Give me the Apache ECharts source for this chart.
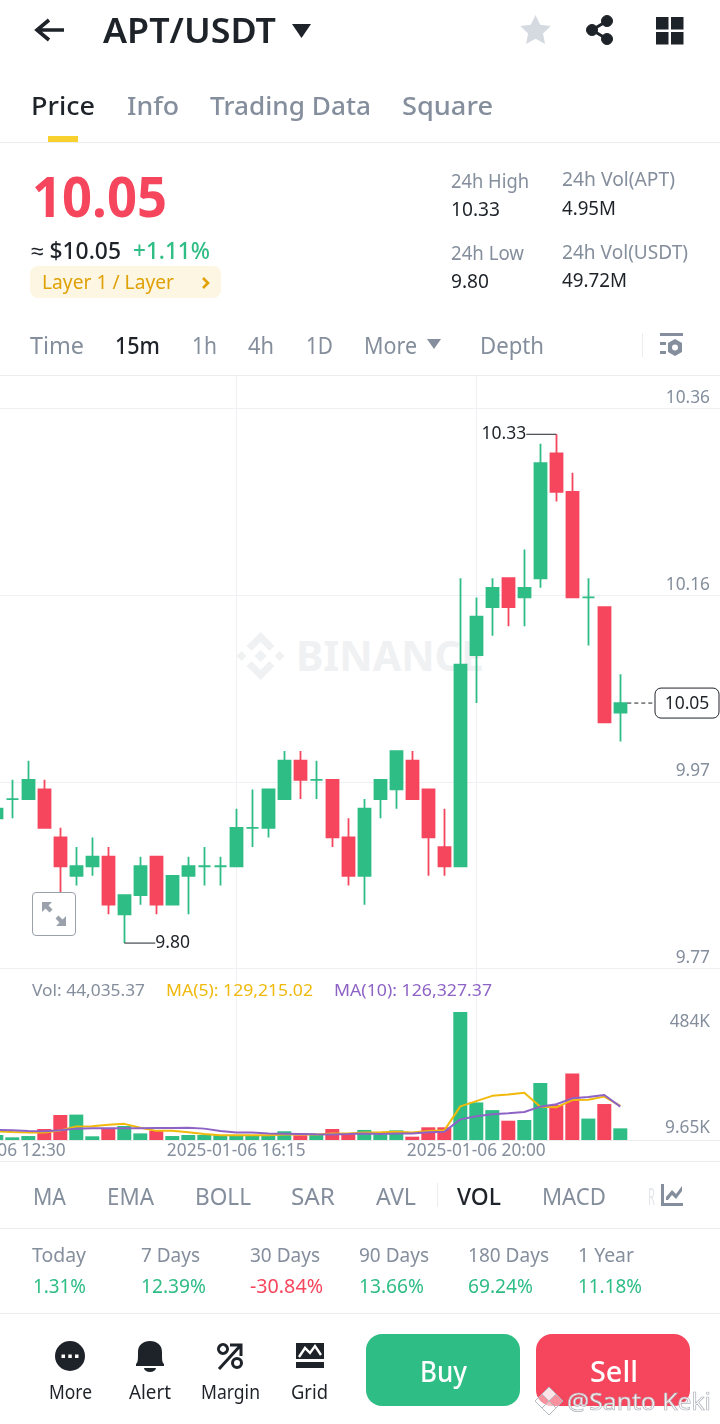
<!DOCTYPE html>
<html><head><meta charset="utf-8">
<script src="https://cdn.jsdelivr.net/npm/echarts@6/dist/echarts.min.js"></script>
<style>
html,body{margin:0;padding:0;background:#fff;width:720px;height:1424px;overflow:hidden}
#under,#chart,#over{position:absolute;left:0;top:0;width:720px;height:1424px}
#under{z-index:0}#chart{z-index:1}#over{z-index:2;pointer-events:none}
svg text{font-family:"Noto Sans",sans-serif}
</style></head><body>
<svg id="under" viewBox="0 0 720 1424" xmlns="http://www.w3.org/2000/svg"></svg>
<div id="chart"></div>
<svg id="over" viewBox="0 0 720 1424" xmlns="http://www.w3.org/2000/svg"></svg>
<script>
const categories=["2025-01-06 12:30","2025-01-06 12:45","2025-01-06 13:00","2025-01-06 13:15","2025-01-06 13:30","2025-01-06 13:45","2025-01-06 14:00","2025-01-06 14:15","2025-01-06 14:30","2025-01-06 14:45","2025-01-06 15:00","2025-01-06 15:15","2025-01-06 15:30","2025-01-06 15:45","2025-01-06 16:00","2025-01-06 16:15","2025-01-06 16:30","2025-01-06 16:45","2025-01-06 17:00","2025-01-06 17:15","2025-01-06 17:30","2025-01-06 17:45","2025-01-06 18:00","2025-01-06 18:15","2025-01-06 18:30","2025-01-06 18:45","2025-01-06 19:00","2025-01-06 19:15","2025-01-06 19:30","2025-01-06 19:45","2025-01-06 20:00","2025-01-06 20:15","2025-01-06 20:30","2025-01-06 20:45","2025-01-06 21:00","2025-01-06 21:15","2025-01-06 21:30","2025-01-06 21:45","2025-01-06 22:00","2025-01-06 22:15","2025-01-06 22:30","2025-01-06 22:45","2025-01-06 23:00","2025-01-06 23:15","2025-01-06 23:30","2025-01-06 23:45"];
const opens =[9.93,9.95,9.95,9.96,9.91,9.87,9.88,9.89,9.83,9.85,9.89,9.84,9.87,9.88,9.88,9.88,9.92,9.92,9.95,9.99,9.97,9.97,9.91,9.87,9.95,9.96,9.99,9.96,9.90,9.88,10.10,10.15,10.18,10.16,10.18,10.31,10.27,10.16,10.15,10.04];
const closes=[9.94,9.95,9.97,9.92,9.88,9.88,9.89,9.84,9.85,9.88,9.84,9.87,9.88,9.88,9.88,9.92,9.92,9.96,9.99,9.97,9.97,9.91,9.87,9.94,9.97,10.00,9.95,9.91,9.88,10.09,10.14,10.17,10.15,10.17,10.30,10.27,10.16,10.16,10.03,10.05];
const lows  =[9.93,9.93,9.95,9.92,9.85,9.86,9.87,9.83,9.80,9.84,9.83,9.84,9.83,9.86,9.86,9.88,9.90,9.91,9.95,9.95,9.95,9.90,9.86,9.84,9.93,9.94,9.95,9.87,9.87,9.88,10.05,10.12,10.13,10.13,10.17,10.26,10.16,10.11,10.03,10.01];
const highs =[9.94,9.97,9.99,9.97,9.92,9.90,9.91,9.90,9.85,9.89,9.89,9.87,9.89,9.90,9.89,9.94,9.96,9.96,10.00,10.00,9.99,9.97,9.93,9.95,9.97,10.00,10.00,9.96,9.94,10.18,10.16,10.18,10.18,10.21,10.32,10.33,10.29,10.18,10.15,10.08];
const volumes=[19000,10000,15000,41600,94500,96000,14000,44000,53000,25000,35000,15000,19000,19000,19000,19000,16000,16000,33000,18000,19000,41600,25000,38000,21000,36500,12600,48000,48000,484000,142000,113000,73000,75600,215500,132000,251000,81000,136000,44035.37];
const ma5 =[33000,30000,28000,28000,36000,51500,52000,58000,61000,46500,34500,35000,29500,22500,17500,18200,18000,17600,20600,20400,20800,24300,25000,28000,29000,31500,28000,34000,36500,127000,147000,167000,172000,179000,126000,123500,151000,152000,164000,129215.02];
const ma10=[38000,36500,34000,33000,36500,43000,44000,44000,44000,44000,45000,45400,46600,43000,34000,28000,28000,25000,24000,23000,21500,21000,22800,25000,23000,25000,25000,29000,31000,78000,89500,97000,101000,106000,126000,135000,157500,162500,170000,126327.37];
const priceTicks=[9.7734,9.9679,10.1623,10.3568];
const volTicks=[484000,9650];
const lastPrice=10.05, highPrice=10.33, lowPrice=9.80;
const GREEN='#2EBD85',RED='#F6465D',GRID='#EEF0F3',GRAY='#848E9C',DARK='#1E2329',ORANGE='#F0B90B',PURPLE='#8E63C6';
const FONT='"Noto Sans",sans-serif';

const chart=echarts.init(document.getElementById('chart'),null,{width:720,height:1424});
const catAxisCommon={type:'category',data:categories,boundaryGap:true,axisTick:{show:false},
  splitLine:{show:true,alignWithLabel:true,showMinLine:true,showMaxLine:true,interval:i=>i%15===0&&i<40,lineStyle:{color:GRID,width:1}}};
chart.setOption({
  animation:false,
  grid:[{left:-11.7,width:736,top:376,height:592.7,outerBoundsMode:'none',containLabel:false},{left:-11.7,width:736,top:969,height:171,outerBoundsMode:'none',containLabel:false}],
  xAxis:[
    Object.assign({gridIndex:0,axisLine:{show:false},axisLabel:{show:false}},catAxisCommon),
    Object.assign({gridIndex:1,axisLine:{show:true,lineStyle:{color:'#EAECEF',width:1}},
      axisLabel:{show:true,interval:i=>i%15===0&&i<40,hideOverlap:false,margin:3,showMinLabel:true,showMaxLabel:true,color:GRAY,fontSize:17.3,fontFamily:FONT},},catAxisCommon)
  ],
  yAxis:[
    {gridIndex:0,type:'value',position:'right',min:9.7733,max:10.3907,scale:true,
     axisLine:{show:false},
     axisTick:{show:false,customValues:priceTicks},
     splitLine:{show:true,lineStyle:{color:GRID,width:1}},
     axisLabel:{inside:true,customValues:priceTicks,margin:14.3,verticalAlign:'bottom',lineHeight:21,color:GRAY,fontSize:17.3,fontFamily:FONT,formatter:v=>Number(v).toFixed(2)}},
    {gridIndex:1,type:'value',position:'right',min:0,max:646500,
     axisLine:{show:false},
     axisTick:{show:false,customValues:volTicks},
     splitLine:{show:false},
     axisLabel:{inside:true,customValues:volTicks,margin:14.3,color:GRAY,fontSize:17.3,fontFamily:FONT,
       formatter:v=>v>=100000?'{a|'+Math.round(v/1000)+'K}':'{b|'+(v/1000).toFixed(2)+'K}',
       rich:{a:{color:GRAY,fontSize:17.3,fontFamily:FONT,padding:[21,0,0,0]},b:{color:GRAY,fontSize:17.3,fontFamily:FONT,padding:[0,0,18,0]}}}}
  ],
  series:[
    {name:'Price',type:'candlestick',xAxisIndex:0,yAxisIndex:0,barWidth:12.5,
     data:opens.map((o,i)=>[o,closes[i],lows[i],highs[i]]),
     itemStyle:{color:GREEN,color0:RED,borderColor:GREEN,borderColor0:RED,borderColorDoji:GREEN,borderWidth:1.8}},
    {name:'Vol',type:'bar',xAxisIndex:1,yAxisIndex:1,barWidth:14,
     data:volumes,
     itemStyle:{color:p=>closes[p.dataIndex]>=opens[p.dataIndex]?GREEN:RED}},
    {name:'MA(5)',type:'line',xAxisIndex:1,yAxisIndex:1,data:ma5,showSymbol:false,symbol:'none',lineStyle:{color:ORANGE,width:2},z:3},
    {name:'MA(10)',type:'line',xAxisIndex:1,yAxisIndex:1,data:ma10,showSymbol:false,symbol:'none',lineStyle:{color:PURPLE,width:2},z:4}
  ]
});
// annotations anchored to the data through the chart's own scales
const px=(i,v)=>chart.convertToPixel({gridIndex:0},[i,v]);
const hiPt=px(highs.indexOf(highPrice),highPrice), loPt=px(lows.indexOf(lowPrice),lowPrice), lastPt=px(opens.length-1,lastPrice);
const ln=(x1,y,x2,extra)=>({type:'line',shape:{x1,y1:y,x2,y2:y},style:Object.assign({stroke:DARK,lineWidth:1},extra||{}),z:20});
chart.setOption({graphic:{elements:[
  ln(hiPt[0]-30,hiPt[1],hiPt[0]),
  {type:'text',x:hiPt[0]-30,y:hiPt[1],z:20,style:{text:highPrice.toFixed(2),align:'right',verticalAlign:'middle',fontSize:17.5,fontFamily:FONT,fill:DARK}},
  ln(loPt[0],loPt[1],loPt[0]+31),
  {type:'text',x:loPt[0]+31,y:loPt[1],z:20,style:{text:lowPrice.toFixed(2),align:'left',verticalAlign:'middle',fontSize:17.5,fontFamily:FONT,fill:DARK}},
  ln(lastPt[0]+7,lastPt[1],655,{lineDash:[4,3]}),
  {type:'rect',shape:{x:655,y:lastPt[1]-15,width:64,height:30,r:6},style:{fill:'#fff',stroke:DARK,lineWidth:1},z:20},
  {type:'text',x:687,y:lastPt[1]+1,z:21,style:{text:lastPrice.toFixed(2),align:'center',verticalAlign:'middle',fontSize:17.5,fontFamily:FONT,fill:DARK}}
]}});

// page chrome around the chart
const NS='http://www.w3.org/2000/svg';
function T(svg,s,x1,x2,y,size,weight,color){
  const t=document.createElementNS(NS,'text');t.textContent=s;
  t.setAttribute('x',x1);t.setAttribute('y',y);t.setAttribute('font-size',size);t.setAttribute('font-weight',weight);t.setAttribute('fill',color);
  t.setAttribute('textLength',x2-x1);t.setAttribute('lengthAdjust','spacingAndGlyphs');svg.appendChild(t);return t;
}
const over=document.getElementById('over'),under=document.getElementById('under');
under.innerHTML=`<g fill="#EFF1F3"><g transform="translate(260.5,656)"><path d="M0,-24 L14,-10 L9,-5 L0,-14 L-9,-5 L-14,-10Z"/><path d="M0,24 L14,10 L9,5 L0,14 L-9,5 L-14,10Z"/><path d="M-24,0 L-19,-5 L-14,0 L-19,5Z"/><path d="M24,0 L19,-5 L14,0 L19,5Z"/><path d="M0,-6 L6,0 L0,6 L-6,0Z"/></g></g>`;
T(under,'BINANCE',296,484,671,42,700,'#EFF1F3');
over.innerHTML=`
<rect x="0" y="142" width="720" height="1" fill="#EAECEF"/>
<rect x="48" y="136" width="30" height="6" fill="#F8D12F"/>
<rect x="0" y="375" width="720" height="1" fill="#EAECEF"/>
<rect x="0" y="1161" width="720" height="1" fill="#EAECEF"/>
<rect x="0" y="1228" width="720" height="1" fill="#EAECEF"/>
<rect x="0" y="1313" width="720" height="1" fill="#EAECEF"/>
<rect x="642" y="333" width="1" height="24" fill="#EAECEF"/>
<rect x="437" y="1183" width="1" height="24" fill="#EAECEF"/>
<path d="M64,30H38M49,20L37,30L49,40" fill="none" stroke="${DARK}" stroke-width="3.6"/>
<path d="M292,24H311L301.5,38Z" fill="${DARK}"/>
<path d="M535.5,15l4.7,9.8 10.6,1.3 -7.8,7.3 2.1,10.6 -9.6,-5.2 -9.4,5.2 2,-10.6 -7.8,-7.3 10.5,-1.3Z" fill="#D5D9E0"/>
<g fill="${DARK}" stroke="${DARK}"><circle cx="607" cy="21" r="5.5"/><circle cx="592" cy="30" r="5.5"/><circle cx="607" cy="39" r="5.5"/><path d="M607,21L592,30L607,39" fill="none" stroke-width="3"/></g>
<g fill="${DARK}"><rect x="656" y="17" width="12.5" height="12.5"/><rect x="671" y="17" width="12.5" height="12.5"/><rect x="656" y="32" width="12.5" height="12.5"/><rect x="671" y="32" width="12.5" height="12.5"/></g>
<rect x="30" y="266" width="191" height="32" rx="8" fill="#FDF6E3"/>
<path d="M203,278L208,283L203,288" fill="none" stroke="#E0A106" stroke-width="2.6"/>
<path d="M427,339H441L434,349Z" fill="${GRAY}"/>
<g fill="${GRAY}"><rect x="660" y="333" width="23" height="3"/><rect x="660" y="342" width="6" height="3"/><rect x="660" y="351" width="6" height="3"/><path d="M675,339l7,4v9l-7,4-7,-4v-9Z"/><circle cx="675" cy="347.5" r="3" fill="#fff"/></g>
<rect x="32.5" y="892.5" width="43" height="43" rx="3.5" fill="#fff" stroke="#9AA1AB" stroke-width="1"/>
<g fill="#9AA1AB"><path d="M42,902h10l-3.5,3.5 4,4 -3,3 -4,-4L42,912Z"/><path d="M66,926h-10l3.5,-3.5 -4,-4 3,-3 4,4L66,916Z"/></g>
<path d="M661,1184v22h22v-3h-19v-19Z M666,1200l0,-3 6,-7 4,4 6,-8v5l-6,8 -4,-4 -4,5Z" fill="${GRAY}"/>
<circle cx="70" cy="1356" r="15" fill="${DARK}"/><g fill="#fff"><rect x="61.5" y="1354.5" width="3.5" height="3.5"/><rect x="68.3" y="1354.5" width="3.5" height="3.5"/><rect x="75" y="1354.5" width="3.5" height="3.5"/></g>
<path d="M136,1364c2,-2 2,-4 2,-12c0,-7 5,-11 12,-11s12,4 12,11c0,8 0,10 2,12v2h-28Z" fill="${DARK}"/><path d="M144,1368h12a6,4 0 0 1 -12,0Z" fill="${DARK}"/>
<g fill="none" stroke="${DARK}" stroke-width="3"><circle cx="223" cy="1349" r="4.5" transform="rotate(45 223 1349)"/><circle cx="237" cy="1363" r="4.5"/><path d="M219,1369L240,1346M230,1345h11v11"/></g>
<path d="M296,1343h28v16h-28Z" fill="${DARK}"/><path d="M296,1362h28v6h-28Z" fill="${DARK}"/><path d="M299,1357l6,-9 5,5 5,-7 6,9" fill="none" stroke="#fff" stroke-width="2.4"/>
<rect x="366" y="1334" width="154" height="72" rx="16" fill="${GREEN}"/>
<rect x="536" y="1334" width="154" height="72" rx="16" fill="${RED}"/>
`;
const chrome=[
 ['APT/USDT',103,276,43,35,600,DARK],
 ['Price',31,95,115,26,500,DARK],['Info',127,179,115,26,500,GRAY],['Trading Data',210,371,115,26,500,GRAY],['Square',402,493,115,26,500,GRAY],
 ['10.05',32,167,217,56,700,RED],
 ['≈ $10.05',31,121,259,23,500,DARK],['+1.11%',133,210,259,23,500,GREEN],
 ['Layer 1 / Layer',42,174,289,20,400,'#E0A106'],
 ['24h High',451,529,188,20,400,GRAY],['10.33',451,500,216,20,400,DARK],
 ['24h Vol(APT)',562,675,186,20,400,GRAY],['4.95M',562,616,215,20,400,DARK],
 ['24h Low',451,524,260,20,400,GRAY],['9.80',451,489,288,20,400,DARK],
 ['24h Vol(USDT)',562,688,259,20,400,GRAY],['49.72M',562,627,287,20,400,DARK],
 ['Time',30,84,354,24,400,GRAY],['15m',115,160,354,24,500,DARK],['1h',192,217,354,24,400,GRAY],['4h',248,274,354,24,400,GRAY],['1D',306,333,354,24,400,GRAY],['More',364,417,354,24,400,GRAY],['Depth',480,544,354,24,400,GRAY],
 ['Vol: 44,035.37',32,145,996,17,400,GRAY],['MA(5): 129,215.02',166,313,996,17,400,ORANGE],['MA(10): 126,327.37',334,492,996,17,400,PURPLE],
 ['MA',33,66,1205,24,400,GRAY],['EMA',107,154,1205,24,400,GRAY],['BOLL',195,251,1205,24,400,GRAY],['SAR',291,335,1205,24,400,GRAY],['AVL',376,416,1205,24,400,GRAY],['VOL',457,501,1205,24,500,DARK],['MACD',542,606,1205,24,400,GRAY],['R',648,655,1205,24,400,'#E3E6EA'],
 ['Today',32,86,1262,20,400,GRAY],['7 Days',141,200,1262,20,400,GRAY],['30 Days',250,320,1262,20,400,GRAY],['90 Days',359,429,1262,20,400,GRAY],['180 Days',468,549,1262,20,400,GRAY],['1 Year',578,634,1262,20,400,GRAY],
 ['1.31%',33,86,1293,20,400,GREEN],['12.39%',141,206,1293,20,400,GREEN],['-30.84%',250,323,1293,20,400,RED],['13.66%',359,424,1293,20,400,GREEN],['69.24%',468,533,1293,20,400,GREEN],['11.18%',578,642,1293,20,400,GREEN],
 ['More',49,92,1399,20,400,DARK],['Alert',129,171,1399,20,400,DARK],['Margin',201,260,1399,20,400,DARK],['Grid',291,328,1399,20,400,DARK],
 ['Buy',420,467,1382,28,500,'#fff'],['Sell',590,638,1382,28,500,'#fff']
];
chrome.forEach(r=>T(over,...r));
// screenshot watermark
const wm=document.createElementNS(NS,'g');
wm.innerHTML=`<g transform="translate(549,1401)" fill="#fff" fill-opacity=".85" stroke="#B7BBC2" stroke-width="1"><path d="M0,-14 L7,-7 L0,0 L-7,-7Z"/><path d="M-7,-7 L0,0 L-7,7 L-14,0Z" fill-opacity=".4"/><path d="M7,-7 L14,0 L7,7 L0,0Z" fill-opacity=".4"/><path d="M0,0 L7,7 L0,14 L-7,7Z" fill-opacity=".6"/></g>`;
over.appendChild(wm);
const wt=T(over,'@Santo Keki',567,711,1410,24,400,'#fff');wt.setAttribute('stroke','#AEB3BA');wt.setAttribute('stroke-width','0.7');wt.setAttribute('fill-opacity','.9');
</script>
</body></html>
